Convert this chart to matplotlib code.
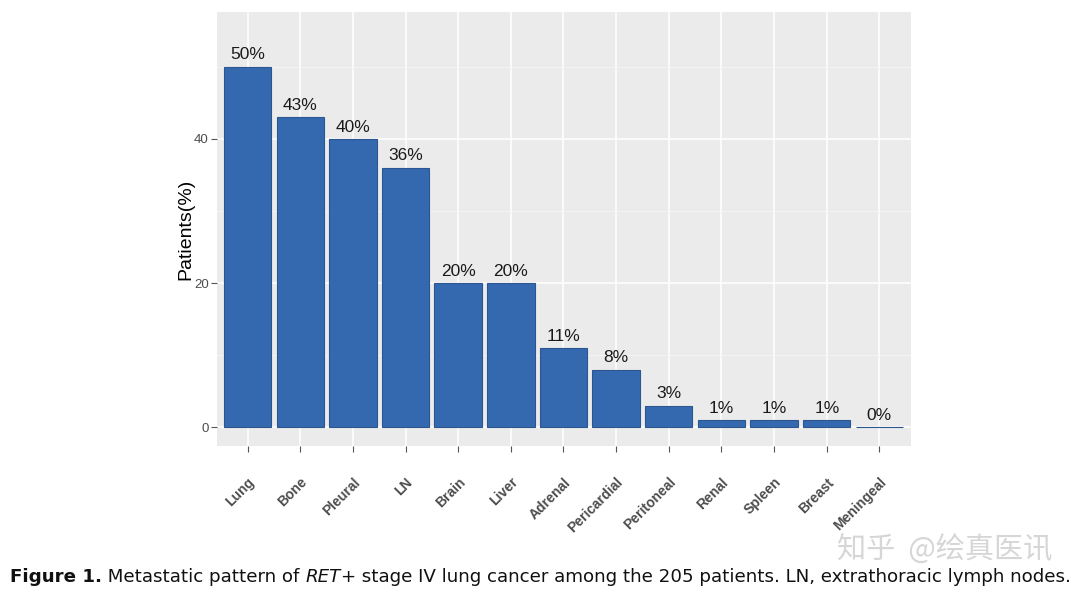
import matplotlib
matplotlib.use("Agg")
import matplotlib.pyplot as plt
from matplotlib.ticker import MultipleLocator

# metastatic sites and share of patients (%)
sites = ["Lung", "Bone", "Pleural", "LN", "Brain", "Liver", "Adrenal",
         "Pericardial", "Peritoneal", "Renal", "Spleen", "Breast", "Meningeal"]
patients_pct = [50, 43, 40, 36, 20, 20, 11, 8, 3, 1, 1, 1, 0]
bar_labels = ["50%", "43%", "40%", "36%", "20%", "20%", "11%",
              "8%", "3%", "1%", "1%", "1%", "0%"]

plt.rcParams["font.family"] = ["Liberation Sans", "DejaVu Sans"]

fig = plt.figure(figsize=(10.8, 5.92), dpi=100)
ax = fig.add_axes([217 / 1080, 1 - 446 / 592, (911 - 217) / 1080, (446 - 12) / 592])

ax.set_facecolor("#ebebeb")
for s in ax.spines.values():
    s.set_visible(False)

x = range(len(sites))
bars = ax.bar(x, patients_pct, width=0.9, color="#3469b0", edgecolor="#2b5690",
              linewidth=0.8, zorder=3)
for b, lab in zip(bars, bar_labels):
    ax.text(b.get_x() + b.get_width() / 2, b.get_height() + 0.6, lab,
            ha="center", va="bottom", fontsize=12.5, color="#1a1a1a", zorder=4)

ax.set_xlim(-0.58, len(sites) - 0.4)
ax.set_ylim(-2.6, 57.6)
ax.yaxis.set_major_locator(MultipleLocator(20))
ax.yaxis.set_minor_locator(MultipleLocator(10))
ax.grid(which="major", color="white", linewidth=1.1, zorder=0)
ax.grid(which="minor", axis="y", color="#f5f5f5", linewidth=0.6, zorder=0)
ax.set_axisbelow(True)

ax.set_xticks(list(x))
ax.set_xticklabels(sites, rotation=45, ha="right", rotation_mode="anchor",
                   fontsize=10, color="#4d4d4d", fontweight="bold")
ax.tick_params(axis="x", which="major", length=4, color="#555555", pad=17)
ax.tick_params(axis="y", which="major", length=4, color="#555555", pad=2,
               labelsize=9.5, labelcolor="#4d4d4d")
ax.tick_params(axis="y", which="minor", length=0)
ax.set_ylabel("Patients(%)", fontsize=14, labelpad=0)

# caption with mixed styles, placed piece by piece
pieces = [("Figure 1.", dict(fontweight="bold")),
          (" Metastatic pattern of ", {}),
          ("RET", dict(style="italic")),
          ("+", {}),
          (" stage IV lung cancer among the 205 patients. LN, extrathoracic lymph nodes.", {})]
fig.canvas.draw()
renderer = fig.canvas.get_renderer()
xpos = 10
for txt, kw in pieces:
    t = fig.text(xpos / 1080, 1 - 582 / 592, txt, fontsize=13.15, color="#111111",
                 ha="left", va="baseline", family=["DejaVu Sans"], **kw)
    bb = t.get_window_extent(renderer)
    xpos = bb.x1
# watermark
fig.text(1052 / 1080, 1 - 559 / 592, "知乎  @绘真医讯", fontsize=21, color="#d6d6d6",
         ha="right", va="baseline", family=["Noto Sans CJK SC", "DejaVu Sans"])

fig.savefig("out.png", dpi=100)
